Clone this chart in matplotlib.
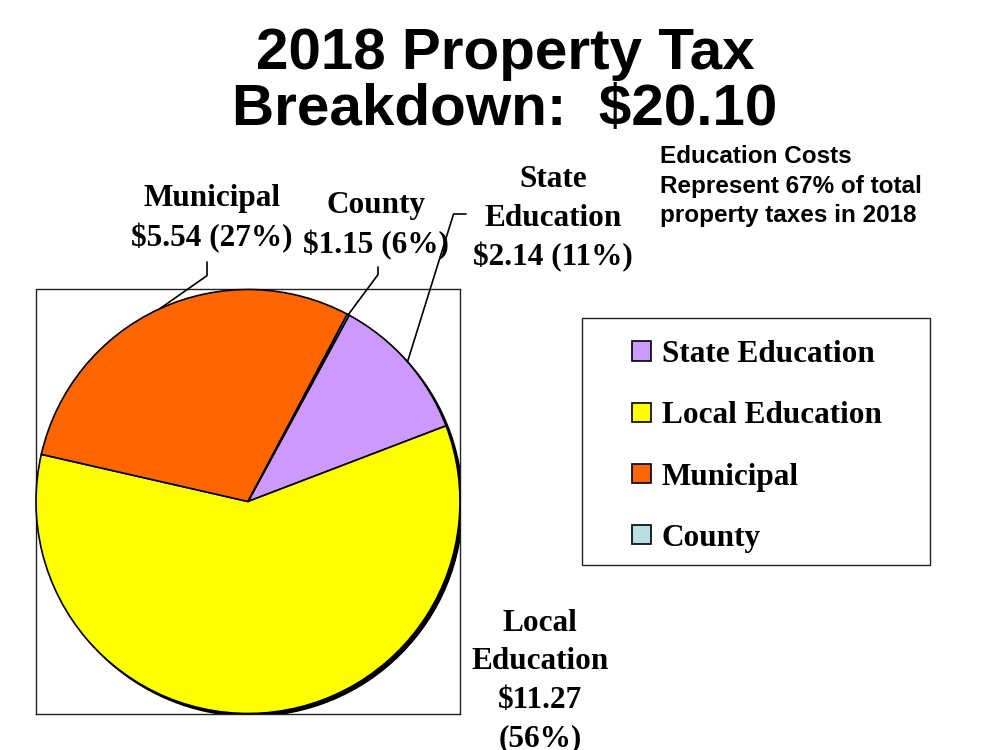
import matplotlib
matplotlib.use("Agg")
import matplotlib.pyplot as plt
from matplotlib.patches import Circle, Rectangle
import numpy as np

plt.rcParams["text.parse_math"] = False

# slices, clockwise from the top right
names = ["State Education", "Local Education", "Municipal", "County"]
amounts = [2.14, 11.27, 5.54, 1.15]
pcts = [11, 56, 27, 6]
# wedge sizes as drawn in the picture (the county wedge is only a sliver)
slice_sizes = [2.14, 11.27, 5.54, 0.03]
colors = ["#CC99FF", "#FFFF00", "#FF6600", "#BBE0E3"]
label_lines = ["State\nEducation\n${a:.2f} ({p}%)", "Local\nEducation\n${a:.2f}\n({p}%)",
               "Municipal\n${a:.2f} ({p}%)", "County\n${a:.2f} ({p}%)"]
total = 20.10
edu_share = 67
year = 2018

SERIF = "Liberation Serif"
SANS = "Liberation Sans"

W, H = 1000, 750
fig = plt.figure(figsize=(10, 7.5), dpi=100)

def px(x, y):
    # image pixel (from top-left) -> figure fraction
    return x / W, 1 - y / H

ax = fig.add_axes([36 / W, 36 / H, 424 / W, 425 / H])
wedges, _ = ax.pie(slice_sizes, colors=colors, startangle=61.5, counterclock=False,
                   radius=1.0, frame=True,
                   wedgeprops=dict(edgecolor="black", linewidth=1.2))
for w in wedges:
    w.set_zorder(3)
ax.add_patch(Circle((0.013, -0.013), 1.0, color="black", zorder=2))
ax.set_xlim(-1, 1); ax.set_ylim(-1, 1)
ax.set_xticks([]); ax.set_yticks([])
for s in ax.spines.values():
    s.set_color("#222"); s.set_linewidth(1.0)

# labels: (text centre in image px), leader (start in image px, angleA, angleB)
label_pos = [(553, 219), (540, 681), (212, 219), (376, 226)]
leaders = {0: ((466, 214), 0, 72.7), 2: ((207, 262), 90, 35), 3: ((378, 267), 90, 53.4)}
for i, w in enumerate(wedges):
    txt = label_lines[i].format(a=amounts[i], p=pcts[i])
    fx, fy = px(*label_pos[i])
    fig.text(fx, fy, txt, ha="center", va="center", multialignment="center",
             family=SERIF, weight="bold", fontsize=22.5, linespacing=1.42)
    if i in leaders:
        (sx, sy), aA, aB = leaders[i]
        mid = np.deg2rad((w.theta1 + w.theta2) / 2)
        ax.annotate("", xy=(np.cos(mid), np.sin(mid)), xycoords="data",
                    xytext=(sx, H - sy), textcoords="figure pixels",
                    annotation_clip=False,
                    arrowprops=dict(arrowstyle="-", color="black", lw=1.2,
                                    shrinkA=0, shrinkB=0,
                                    connectionstyle=f"angle,angleA={aA},angleB={aB},rad=0"))

# title and note
fig.text(*px(505, 82), f"{year} Property Tax\nBreakdown:  ${total:.2f}", ha="center", va="center",
         family=SANS, weight="bold", fontsize=42, linespacing=1.06)
fig.text(*px(660, 186), f"Education Costs\nRepresent {edu_share}% of total\nproperty taxes in {year}",
         ha="left", va="center", family=SANS, weight="bold", fontsize=17.5, linespacing=1.36)

# legend
fig.patches.append(Rectangle(px(582, 565), 348 / W, 247 / H, transform=fig.transFigure,
                             facecolor="none", edgecolor="#222", lw=1.0))
fig.legend(wedges, names, loc="center", bbox_to_anchor=px(757, 446.5), frameon=False,
           prop=dict(family=SERIF, weight="bold", size=22.5),
           handlelength=0.58, handleheight=0.58, handletextpad=0.35, labelspacing=1.03,
           borderpad=0)

fig.savefig("out.png", dpi=100)
